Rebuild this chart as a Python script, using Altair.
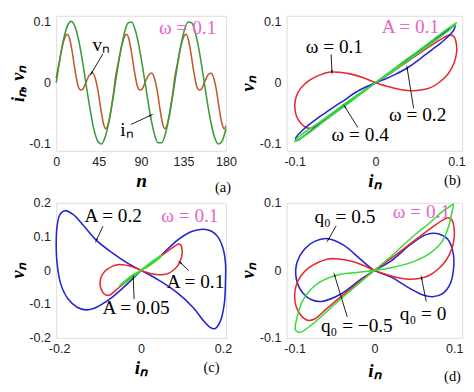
import math
import altair as alt
import pandas as pd

# ---------------- data ----------------
# (a) time series
ia_n = [0, 4, 8, 12, 16, 20, 24, 28, 32, 36, 40, 44, 48, 52, 56, 60, 64, 68, 72, 76, 80, 84, 88, 92,
        96, 100, 104, 108, 112, 116, 120, 124, 128, 132, 136, 140, 144, 148, 152, 156, 160, 164,
        168, 172, 176, 180]
ia_v = [0.0, 0.039, 0.072, 0.093, 0.100, 0.091, 0.068, 0.034, -0.006, -0.044, -0.076, -0.095,
        -0.100, -0.088, -0.063, -0.028, 0.012, 0.049, 0.079, 0.097, 0.099, 0.085, 0.058, 0.022,
        -0.017, -0.054, -0.083, -0.098, -0.098, -0.082, -0.054, -0.017, 0.023, 0.059, 0.086,
        0.099, 0.097, 0.079, 0.049, 0.011, -0.029, -0.064, -0.089, -0.100, -0.095, -0.075]

va_n = [0, 3, 6, 9, 12, 14.5, 17, 20, 23, 26, 28.5, 31.4, 35, 38.5, 41.5, 44, 47, 50, 52.5, 55, 58.5, 61,
        62.8, 65.8, 68.8, 71.8, 74.8, 77.3, 79.8, 82.8, 85.8, 88.8, 91.3, 94.2, 97.8, 101.3, 104.3,
        106.8, 109.8, 112.8, 115.3, 117.8, 121.3, 123.8,
        125.7, 128.7, 131.7, 134.7, 137.7, 140.2, 142.7, 145.7, 148.7, 151.7, 154.2, 157.1, 160.7,
        164.2, 167.2, 169.7, 172.7, 175.7, 178.2, 180]
va_v = [0.008, 0.032, 0.056, 0.073, 0.079, 0.070, 0.050, 0.020, -0.004, -0.012, -0.010, 0.000, 0.012,
        0.016, 0.007, -0.010, -0.040, -0.066, -0.075, -0.068, -0.040, -0.015,
        0.008, 0.032, 0.056, 0.073, 0.079, 0.070, 0.050, 0.020, -0.004, -0.012, -0.010, 0.000, 0.012,
        0.016, 0.007, -0.010, -0.040, -0.066, -0.075, -0.068, -0.040, -0.015,
        0.008, 0.032, 0.056, 0.073, 0.079, 0.070, 0.050, 0.020, -0.004, -0.012, -0.010, 0.000, 0.012,
        0.016, 0.007, -0.010, -0.040, -0.066, -0.075, -0.070]

# red loop: omega = 0.1, A = 0.1, q0 = 0 (panels b, c, d)
red_i = [0, 0.02, 0.04, 0.06, 0.075, 0.085, 0.092, 0.097, 0.1, 0.1, 0.097, 0.09, 0.08, 0.068, 0.056,
         0.043, 0.03, 0.015, 0, -0.015, -0.03, -0.045, -0.058, -0.07, -0.082, -0.092, -0.098, -0.1,
         -0.098, -0.092, -0.084, -0.075, -0.06, -0.04, -0.02, 0]
red_v = [0, 0.017, 0.035, 0.053, 0.066, 0.074, 0.078, 0.075, 0.062, 0.048, 0.032, 0.015, 0.002, -0.008,
         -0.012, -0.013, -0.011, -0.006, 0, 0.008, 0.014, 0.017, 0.017, 0.012, 0.004, -0.008, -0.022,
         -0.038, -0.054, -0.067, -0.074, -0.072, -0.057, -0.037, -0.018, 0]

# (b) omega = 0.2
blue_b_i = [0, 0.03, 0.06, 0.08, 0.092, 0.098, 0.097, 0.093, 0.087, 0.079, 0.07, 0.06, 0.05, 0.039,
            0.025, 0.012, 0, -0.012, -0.025, -0.037, -0.05, -0.062, -0.072, -0.082, -0.09, -0.096,
            -0.099, -0.097, -0.09, -0.07, -0.04, -0.02, 0]
blue_b_v = [0, 0.029, 0.058, 0.077, 0.088, 0.094, 0.087, 0.08, 0.072, 0.063, 0.054, 0.044, 0.034, 0.024,
            0.014, 0.006, 0, -0.007, -0.016, -0.027, -0.038, -0.049, -0.058, -0.068, -0.077, -0.085,
            -0.091, -0.094, -0.088, -0.068, -0.039, -0.019, 0]
# (b) omega = 0.4
green_b_i = [0, 0.03, 0.06, 0.085, 0.1, 0.093, 0.07, 0.04, 0.015, 0, -0.015, -0.04, -0.07, -0.093,
             -0.1, -0.085, -0.06, -0.03, 0]
green_b_v = [0, 0.03, 0.059, 0.084, 0.098, 0.088, 0.065, 0.036, 0.013, 0, -0.013, -0.036, -0.065,
             -0.086, -0.096, -0.084, -0.059, -0.03, 0]

# (c) A = 0.2
blue_c_i = [0, 0.042, 0.088, 0.119, 0.137, 0.154, 0.172, 0.187, 0.2, 0.206, 0.206, 0.203, 0.193, 0.181,
            0.17, 0.155, 0.127, 0.088, 0.042, 0, -0.031, -0.07, -0.109, -0.14, -0.165, -0.186, -0.198,
            -0.205, -0.207, -0.205, -0.196, -0.178, -0.155, -0.135, -0.116, -0.07, -0.031, 0]
blue_c_v = [0, 0.037, 0.089, 0.113, 0.12, 0.122, 0.116, 0.1, 0.065, 0.02, -0.03, -0.099, -0.152, -0.172,
            -0.17, -0.153, -0.11, -0.066, -0.028, 0, 0.02, 0.052, 0.089, 0.132, 0.165, 0.177, 0.165,
            0.13, 0.08, 0.023, -0.04, -0.085, -0.11, -0.117, -0.113, -0.079, -0.037, 0]
# (c) A = 0.05
green_c_i = [0, 0.02, 0.04, 0.05, 0.048, 0.035, 0.018, 0, -0.018, -0.035, -0.048, -0.053, -0.04,
             -0.02, 0]
green_c_v = [0, 0.02, 0.037, 0.046, 0.04, 0.027, 0.012, 0, -0.012, -0.027, -0.04, -0.047, -0.038,
             -0.02, 0]

# (d) q0 = 0.5
blue_d_i = [0, 0.021, 0.045, 0.065, 0.081, 0.092, 0.099, 0.099, 0.095, 0.086, 0.073, 0.06, 0.045,
            0.021, 0, -0.018, -0.038, -0.058, -0.075, -0.088, -0.097, -0.098, -0.09, -0.078, -0.066,
            -0.042, -0.018, 0]
blue_d_v = [0, 0.014, 0.038, 0.053, 0.054, 0.046, 0.024, 0.0, -0.02, -0.034, -0.039, -0.036, -0.027,
            -0.01, 0, 0.017, 0.037, 0.047, 0.043, 0.031, 0.012, -0.012, -0.033, -0.044, -0.046,
            -0.035, -0.014, 0]
# (d) q0 = -0.5
green_d_i = [0, 0.021, 0.049, 0.07, 0.085, 0.095, 0.099, 0.097, 0.093, 0.085, 0.069, 0.049, 0.021, 0,
             -0.022, -0.05, -0.074, -0.09, -0.097, -0.099, -0.094, -0.078, -0.042, 0]
green_d_v = [0, 0.021, 0.051, 0.071, 0.087, 0.095, 0.098, 0.085, 0.065, 0.043, 0.025, 0.013, 0.004, 0,
             -0.003, -0.008, -0.022, -0.045, -0.07, -0.088, -0.092, -0.08, -0.042, 0]

# annotations: (text, x, y) and arrows (x_start, y_start, x_tip, y_tip)
texts_a = [("vₙ", 47.8, 0.061), ("iₙ", 75, -0.078)]
arrows_a = [(49.5, 0.047, 37.6, 0.016), (79.3, -0.068, 100.4, -0.053)]
texts_b = [("ω = 0.1", -0.051, 0.058), ("ω = 0.2", 0.052, -0.053), ("ω = 0.4", -0.019, -0.085)]
arrows_b = [(-0.055, 0.046, -0.054, 0.018), (0.047, -0.042, 0.039, 0.024), (-0.022, -0.073, -0.038, -0.039)]
texts_c = [("A = 0.2", -0.068, 0.162), ("A = 0.1", 0.133, -0.035), ("A = 0.05", -0.012, -0.113)]
arrows_c = [(-0.093, 0.131, -0.109, 0.089), (0.116, 0.0, 0.096, 0.023), (-0.017, -0.085, -0.019, -0.022)]
texts_d = [("q₀ = 0.5", -0.037, 0.079), ("q₀ = 0", 0.061, -0.065), ("q₀ = −0.5", -0.022, -0.082)]
arrows_d = [(-0.048, 0.066, -0.058, 0.045), (0.065, -0.046, 0.059, -0.011), (-0.034, -0.069, -0.05, -0.007)]

pink_a = ("ω = 0.1", 139.4, 0.089)
pink_b = ("A = 0.1", 0.043, 0.091)
pink_c = ("ω = 0.1", 0.119, 0.162)
pink_d = ("ω = 0.1", 0.059, 0.086)

# ---------------- styling ----------------
PINK = "#e964c8"
RED = "#e8282c"
BLUE = "#2424d2"
GREEN = "#38dc38"
SERIF = "Liberation Serif"
SANS = "Liberation Sans"

FMT1 = "datum.value == 0 ? '0' : (datum.value < 0 ? '-' : '') + format(abs(datum.value), '.1f')"
FMTD = "format(datum.value, 'd')"


def panel(w, h, xdom, ydom, xvals, yvals, xfmt, xtitle, ytitle, series, interp,
          texts, arrows, pink, tag, tagpos, xtp):
    xs = alt.Scale(domain=xdom, nice=False, zero=False)
    ys = alt.Scale(domain=ydom, nice=False, zero=False)
    xaxis = alt.Axis(values=xvals, labelExpr=xfmt, title=xtitle, ticks=False, domain=False,
                     grid=False, labelFont=SANS, labelFontSize=13, labelColor="#222",
                     labelPadding=5, titleFont=SERIF, titleFontStyle="italic",
                     titleFontWeight="bold", titleFontSize=20, titleColor="black",
                     titlePadding=xtp, labelFlush=False)
    yaxis = alt.Axis(values=yvals, labelExpr=FMT1, title=ytitle, ticks=False, domain=False,
                     grid=False, labelFont=SANS, labelFontSize=13, labelColor="#222",
                     labelPadding=6, titleFont=SERIF, titleFontStyle="italic",
                     titleFontWeight="bold", titleFontSize=19, titleColor="black",
                     titlePadding=2, labelFlush=False)

    def X(f):
        return alt.X(f, type="quantitative", scale=xs, axis=xaxis)

    def Y(f):
        return alt.Y(f, type="quantitative", scale=ys, axis=yaxis)

    layers = []
    for xl, yl, color in series:
        df = pd.DataFrame({"x": xl, "y": yl, "k": list(range(len(xl)))})
        layers.append(
            alt.Chart(df).mark_line(interpolate=interp, color=color, strokeWidth=1.6)
            .encode(x=X("x"), y=Y("y"), order=alt.Order("k:Q"))
        )
    sx = w / (xdom[1] - xdom[0])
    sy = h / (ydom[1] - ydom[0])
    arows = []
    for x0, y0, x1, y1 in arrows:
        dx = (x1 - x0) * sx
        dy = -(y1 - y0) * sy
        ang = math.degrees(math.atan2(dx, -dy)) % 360
        arows.append({"x": x0, "y": y0, "x2": x1, "y2": y1, "ang": ang})
    adf = pd.DataFrame(arows)
    layers.append(alt.Chart(adf).mark_rule(color="black", strokeWidth=0.9)
                  .encode(x=X("x"), y=Y("y"), x2="x2:Q", y2="y2:Q"))
    layers.append(alt.Chart(adf).mark_point(shape="wedge", filled=True, size=40, color="black",
                                            opacity=1)
                  .encode(x=X("x2"), y=Y("y2"), angle=alt.Angle("ang:Q", scale=None)))
    tdf = pd.DataFrame({"t": [t[0] for t in texts], "x": [t[1] for t in texts],
                        "y": [t[2] for t in texts]})
    layers.append(alt.Chart(tdf).mark_text(font=SERIF, fontSize=20, color="black")
                  .encode(x=X("x"), y=Y("y"), text="t:N"))
    pdf = pd.DataFrame({"t": [pink[0]], "x": [pink[1]], "y": [pink[2]]})
    layers.append(alt.Chart(pdf).mark_text(font=SERIF, fontSize=20, color=PINK)
                  .encode(x=X("x"), y=Y("y"), text="t:N"))
    gdf = pd.DataFrame({"t": [tag]})
    layers.append(alt.Chart(gdf).mark_text(font=SERIF, fontSize=15, color="black")
                  .encode(x=alt.value(tagpos[0]), y=alt.value(tagpos[1]), text="t:N"))
    return alt.layer(*layers).properties(width=w, height=h)


A = panel(176, 140, [0, 180], [-0.111, 0.109], [0, 45, 90, 135, 180], [-0.1, 0, 0.1], FMTD,
          "n", "iₙ, vₙ", [(va_n, va_v, "#bf5a2e"), (ia_n, ia_v, "#3c9a3c")], "monotone",
          texts_a, arrows_a, pink_a, "(a)", (173, 178), 3)
B = panel(182, 140, [-0.11, 0.107], [-0.111, 0.109], [-0.1, 0, 0.1], [-0.1, 0, 0.1], FMT1,
          "iₙ", "vₙ", [(red_i, red_v, RED), (blue_b_i, blue_b_v, BLUE), (green_b_i, green_b_v, GREEN)],
          "catmull-rom", texts_b, arrows_b, pink_b, "(b)", (172, 170), 3)
C = panel(176, 140, [-0.207, 0.207], [-0.2, 0.2], [-0.2, 0, 0.2], [-0.2, -0.1, 0, 0.1, 0.2], FMT1,
          "iₙ", "vₙ", [(blue_c_i, blue_c_v, BLUE), (red_i, red_v, RED), (green_c_i, green_c_v, GREEN)],
          "catmull-rom", texts_c, arrows_c, pink_c, "(c)", (161, 170), 3)
D = panel(182, 140, [-0.11, 0.11], [-0.1, 0.1], [-0.1, 0, 0.1], [-0.1, 0, 0.1], FMT1,
          "iₙ", "vₙ", [(blue_d_i, blue_d_v, BLUE), (red_i, red_v, RED), (green_d_i, green_d_v, GREEN)],
          "catmull-rom", texts_d, arrows_d, pink_d, "(d)", (172, 180), 6)

chart = (alt.concat(A, B, C, D, columns=2, bounds="flush",
                    spacing=alt.RowColnumber(row=54, column=63))
         .configure_view(stroke="#a6a6a6", strokeWidth=1.2)
         .configure(background="white", padding=0))

chart.save("out.html", embed_options={"renderer": "svg", "actions": False})
